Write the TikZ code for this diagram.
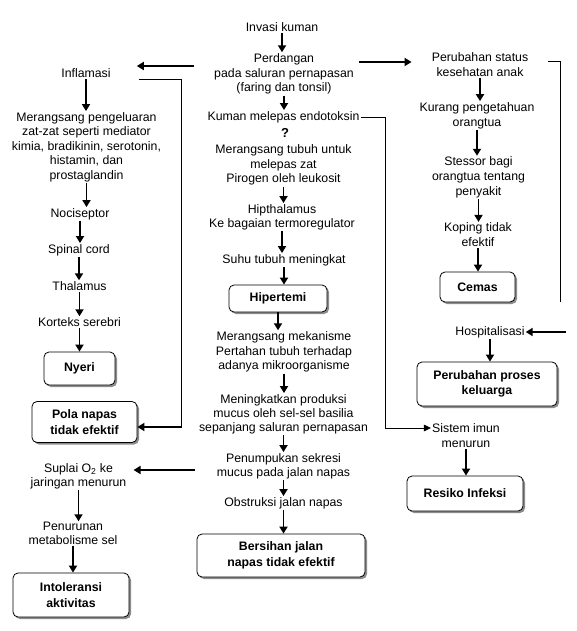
\documentclass[tikz,border=0pt]{standalone}
\usepackage{fontspec}
\setmainfont{Liberation Sans}
\usetikzlibrary{arrows.meta,shadows,calc}
\begin{document}
\begin{tikzpicture}[x=1pt,y=-1pt,
  txt/.style={align=center,inner sep=1pt,font=\fontsize{12.3}{14.8}\selectfont},
  box/.style={draw=black,line width=0.8pt,rounded corners=5pt,fill=white,align=center,
     font=\fontsize{12.3}{15.5}\selectfont\bfseries,inner sep=0pt,
     drop shadow={shadow xshift=2pt,shadow yshift=-2pt,fill=black!45,opacity=1}},
  arr/.style={line width=1.8pt,-{Triangle[length=7pt,width=8pt]}},
  harr/.style={line width=2.2pt,-{Triangle[length=7pt,width=8pt]}},
  con/.style={line width=0.8pt},
  conarr/.style={line width=0.9pt,-{Triangle[length=7pt,width=6.5pt]}}
]
\useasboundingbox[fill=white] (0,0) rectangle (577,631);

% central column
\node[txt] (inv) at (282,27) {Invasi kuman};
\node[txt] (per) at (284,74) {Perdangan\\pada saluran pernapasan\\(faring dan tonsil)};
\node[txt] (kum) at (283.5,117) {Kuman melepas endotoksin};
\node[txt,font=\fontsize{13}{15}\selectfont\bfseries] (q) at (285,133) {?};
\node[txt] (mer) at (283.5,165) {Merangsang tubuh untuk\\melepas zat\\Pirogen oleh leukosit};
\node[txt,font=\fontsize{12.3}{14}\selectfont] (hip) at (282,217) {Hipthalamus\\Ke bagaian termoregulator};
\node[txt] (suhu) at (284,260) {Suhu tubuh meningkat};
\node[box,minimum width=98pt,minimum height=27pt] (hiper) at (278,298.5) {Hipertemi};
\node[txt] (meka) at (284,352) {Merangsang mekanisme\\Pertahan tubuh terhadap\\adanya mikroorganisme};
\node[txt,font=\fontsize{12.3}{14}\selectfont] (mening) at (283.5,414) {Meningkatkan produksi\\mucus oleh sel-sel basilia\\sepanjang saluran pernapasan};
\node[txt,font=\fontsize{12.3}{14}\selectfont] (penum) at (283.5,466) {Penumpukan sekresi\\mucus pada jalan napas};
\node[txt] (obs) at (283.5,503) {Obstruksi jalan napas};
\node[box,minimum width=168pt,minimum height=43pt] (bers) at (281,555.5) {Bersihan jalan\\napas tidak efektif};

% left column
\node[txt] (infl) at (86,73) {Inflamasi};
\node[txt,font=\fontsize{12.3}{14.5}\selectfont] (mer2) at (86.5,147) {Merangsang pengeluaran\\zat-zat seperti mediator\\kimia, bradikinin, serotonin,\\histamin, dan\\prostaglandin};
\node[txt] (noci) at (80,214) {Nociseptor};
\node[txt] (spin) at (79,250) {Spinal cord};
\node[txt] (thal) at (79.5,286) {Thalamus};
\node[txt] (kort) at (79.5,322) {Korteks serebri};
\node[box,minimum width=71pt,minimum height=33pt] (nyeri) at (79.5,368.5) {Nyeri};
\node[box,minimum width=105pt,minimum height=41pt] (pola) at (84.5,422) {Pola napas\\tidak efektif};
\node[txt,font=\fontsize{12.3}{14}\selectfont] (supl) at (78.5,476) {Suplai O\textsubscript{2} ke\\jaringan menurun};
\node[txt,font=\fontsize{12.3}{13.5}\selectfont] (penur) at (73,533.5) {Penurunan\\metabolisme sel};
\node[box,minimum width=116pt,minimum height=44pt] (intol) at (71,595) {Intoleransi\\aktivitas};

% right column
\node[txt] (pst) at (480,64.5) {Perubahan status\\kesehatan anak};
\node[txt] (kur) at (477,115.5) {Kurang pengetahuan\\orangtua};
\node[txt] (stes) at (478.5,177.5) {Stessor bagi\\orangtua tentang\\penyakit};
\node[txt] (kop) at (478,235) {Koping tidak\\efektif};
\node[box,minimum width=75pt,minimum height=30pt] (cemas) at (477.5,287) {Cemas};
\node[txt] (hosp) at (490,332) {Hospitalisasi};
\node[box,minimum width=140pt,minimum height=44pt] (pproses) at (487,384) {Perubahan proses\\keluarga};
\node[txt] (sis) at (466,435.5) {Sistem imun\\menurun};
\node[box,minimum width=116pt,minimum height=35pt] (resiko) at (465,493.5) {Resiko Infeksi};

% vertical arrows
\foreach \a/\b in {inv/per,per/kum,mer/hip,hip/suhu,suhu/hiper,hiper/meka,meka/mening,mening/penum,penum/obs,obs/bers,
  infl/mer2,mer2/noci,noci/spin,spin/thal,thal/kort,kort/nyeri,supl/penur,penur/intol,
  pst/kur,kur/stes,stes/kop,kop/cemas,hosp/pproses,sis/resiko}
  \draw[arr] (\a.south) -- (\a.south |- \b.north);

% horizontal arrows and connectors
\draw[harr] ($(per.west)+(-19,-8)$) -- ($(infl.east)+(25,-7)$);
\draw[harr] ($(per.east)+(4,-12)$) -- ($(pst.west)+(-19,-2.5)$);
\draw[con] ($(infl.east)+(27,6)$) -- ++(43,0) -- ++(0,348) coordinate (c1);
\draw[harr] (c1) -- (c1 -| pola.east);
\draw[conarr] (kum.east) -- ++(25,0) |- ([yshift=7.5pt]sis.west);
\draw[con] ($(pst.east)+(19,-3.5)$) -- ++(12,0) -- ++(0,241) coordinate (c2);
\coordinate (c3) at (566,332);
\draw[harr] (c3) -- (hosp.east);
\draw[harr] ($(penum.west)+(-21,4)$) -- ($(supl.east)+(6,-6)$);
\end{tikzpicture}
\end{document}
